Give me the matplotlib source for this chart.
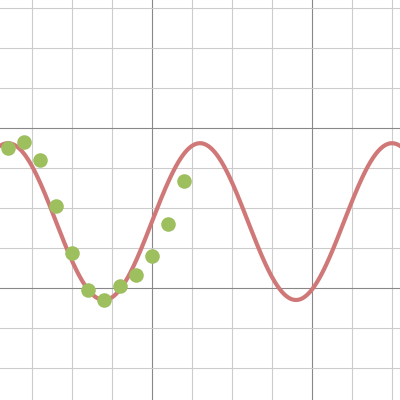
import numpy as np
import matplotlib
matplotlib.use("Agg")
import matplotlib.pyplot as plt

pts_x = [-3.6, -3.2, -2.8, -2.4, -2.0, -1.6, -1.2, -0.8, -0.4, 0.0, 0.4, 0.8]
pts_y = [3.5, 3.65, 3.2, 2.05, 0.875, -0.05, -0.3, 0.05, 0.325, 0.8, 1.6, 2.675]
# fitted model parameters
center, amp, period, phase = 1.66, 1.96, 4.8, 1.2

fig = plt.figure(figsize=(4, 4), dpi=100)
ax = fig.add_axes([0, 0, 1, 1])
xmin, xmax, ymin, ymax = -3.8, 6.2, -2.8, 7.2
ax.set_xlim(xmin, xmax); ax.set_ylim(ymin, ymax)
for v in np.arange(-3, 7, 1):
    ax.axvline(v, color='#cccccc' if v % 4 else '#888888', lw=0.8, zorder=0)
for v in np.arange(-2, 8, 1):
    ax.axhline(v, color='#cccccc' if v % 4 else '#888888', lw=0.8, zorder=0)
xs = np.linspace(xmin, xmax, 600)
ax.plot(xs, center + amp*np.cos(2*np.pi*(xs-phase)/period), color='#d07878', lw=3, zorder=2)
ax.scatter(pts_x, pts_y, s=110, color='#9dbf5e', zorder=3, linewidths=0)
ax.axis('off')
fig.savefig('out.png')
